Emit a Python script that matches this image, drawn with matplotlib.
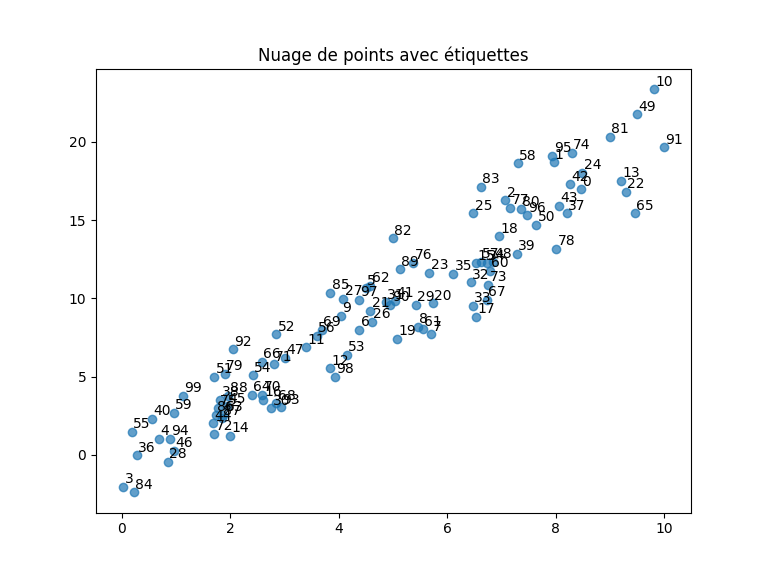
import matplotlib
matplotlib.use("Agg")
import matplotlib.pyplot as plt

# point index -> (x, y)
labels = list(range(100))
x = [8.47, 7.96, 7.07, 0.02, 0.68, 4.50, 4.38, 5.70, 5.46, 4.04,
     9.82, 3.39, 3.84, 9.21, 2.00, 6.53, 2.61, 6.53, 6.95, 5.07,
     5.73, 4.58, 9.29, 5.67, 8.49, 6.48, 4.61, 4.08, 0.84, 5.42,
     2.75, 4.87, 6.43, 6.47, 6.73, 6.11, 0.27, 8.20, 1.81, 7.28,
     0.55, 5.03, 8.26, 8.06, 1.68, 1.93, 0.96, 3.00, 6.85, 9.50,
     7.64, 1.70, 2.85, 4.15, 2.41, 0.18, 3.59, 6.62, 7.30, 0.96,
     6.79, 5.55, 4.58, 1.87, 2.39, 9.46, 2.58, 6.73, 2.85, 3.69,
     2.59, 2.80, 1.70, 6.76, 8.30, 1.78, 5.37, 7.16, 8.01, 1.90,
     7.36, 9.00, 5.00, 6.62, 0.22, 3.84, 1.73, 1.84, 1.96, 5.12,
     4.95, 10.0, 2.05, 2.93, 0.89, 7.94, 7.47, 4.37, 3.93, 1.12]
y = [16.98, 18.72, 16.29, -2.04, 1.02, 10.65, 7.99, 7.71, 8.20, 8.88,
     23.37, 6.86, 5.54, 17.53, 1.21, 12.25, 3.51, 8.82, 13.99, 7.41,
     9.69, 9.20, 16.81, 11.65, 18.04, 15.44, 8.52, 9.99, -0.45, 9.58,
     2.98, 9.75, 11.04, 9.54, 12.25, 11.57, -0.02, 15.44, 3.51, 12.86,
     2.30, 9.85, 17.30, 15.93, 2.03, 3.09, 0.27, 6.22, 12.35, 21.77,
     14.70, 5.00, 7.71, 6.39, 5.09, 1.47, 7.60, 12.35, 18.64, 2.70,
     11.78, 8.03, 10.80, 2.56, 3.85, 15.44, 5.96, 9.90, 3.30, 7.99,
     3.85, 5.79, 1.34, 10.86, 19.32, 2.98, 12.29, 15.80, 13.16, 5.18,
     15.70, 20.35, 13.85, 17.14, -2.41, 10.35, 2.56, 2.35, 3.77, 11.86,
     9.60, 19.66, 6.75, 3.05, 1.02, 19.13, 15.32, 9.90, 5.00, 3.79]

fig, ax = plt.subplots(figsize=(7.68, 5.76), dpi=100)
ax.scatter(x, y, alpha=0.7)
for i, xi, yi in zip(labels, x, y):
    ax.annotate(str(i), (xi, yi), xytext=(1, 2.5), textcoords="offset points")
ax.set_title("Nuage de points avec étiquettes")

plt.savefig("out.png", dpi=100)
